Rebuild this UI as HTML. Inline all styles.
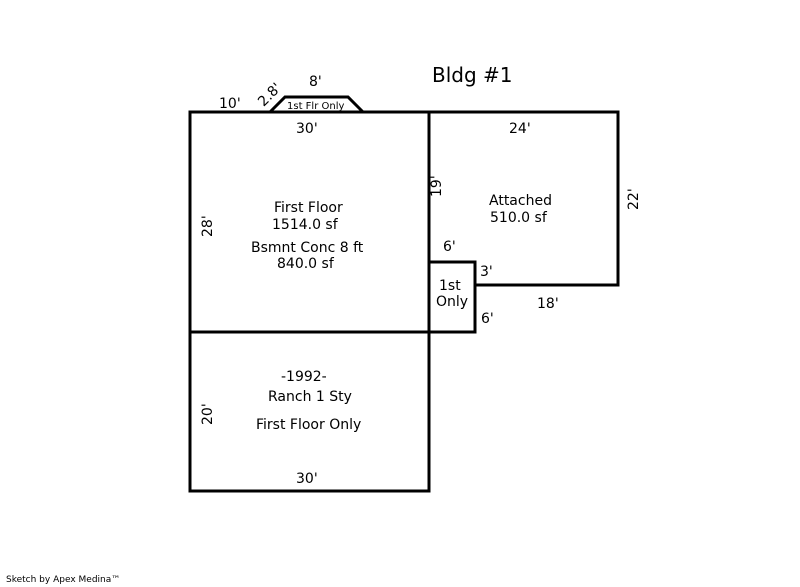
<!DOCTYPE html>
<html><head><style>
html,body{margin:0;padding:0;background:#fff;}
svg{display:block;}
text{font-family:"DejaVu Sans","Liberation Sans",sans-serif;fill:#000;}
</style></head><body>
<svg width="800" height="587" viewBox="0 0 800 587" xmlns="http://www.w3.org/2000/svg">
<g fill="none" stroke="#000" stroke-width="3" stroke-linejoin="miter">
<rect x="190" y="112" width="239" height="220"/>
<rect x="190" y="332" width="239" height="159"/>
<polyline points="429,112 618,112 618,285 475,285"/>
<polyline points="429,262 475,262 475,332 429,332"/>
<line x1="429" y1="112" x2="429" y2="332"/>
<polyline points="270,112 285,97 348,97 363,112"/>
</g>
<g font-size="14">
<text x="432" y="82" font-size="20">Bldg #1</text>
<text x="219" y="108">10'</text>
<text x="309" y="86">8'</text>
<text x="270" y="95" text-anchor="middle" dominant-baseline="middle" transform="rotate(-45 270 95)">2.8'</text>
<text x="296" y="133">30'</text>
<text x="509" y="133">24'</text>
<text x="274" y="212">First Floor</text>
<text x="272" y="229">1514.0 sf</text>
<text x="251" y="252">Bsmnt Conc 8 ft</text>
<text x="277" y="268">840.0 sf</text>
<text x="489" y="205">Attached</text>
<text x="490" y="222">510.0 sf</text>
<text transform="translate(212 237) rotate(-90)">28'</text>
<text transform="translate(441 197) rotate(-90)">19'</text>
<text transform="translate(638 210) rotate(-90)">22'</text>
<text x="443" y="251">6'</text>
<text x="480" y="276">3'</text>
<text x="439" y="290">1st</text>
<text x="436" y="306">Only</text>
<text x="537" y="308">18'</text>
<text x="481" y="323">6'</text>
<text x="281" y="381">-1992-</text>
<text x="268" y="401">Ranch 1 Sty</text>
<text x="256" y="429">First Floor Only</text>
<text transform="translate(212 425) rotate(-90)">20'</text>
<text x="296" y="483">30'</text>
</g>
<text x="287" y="109" font-size="10">1st Flr Only</text>
<text x="6" y="582" font-size="9">Sketch by Apex Medina™</text>
</svg>
</body></html>
